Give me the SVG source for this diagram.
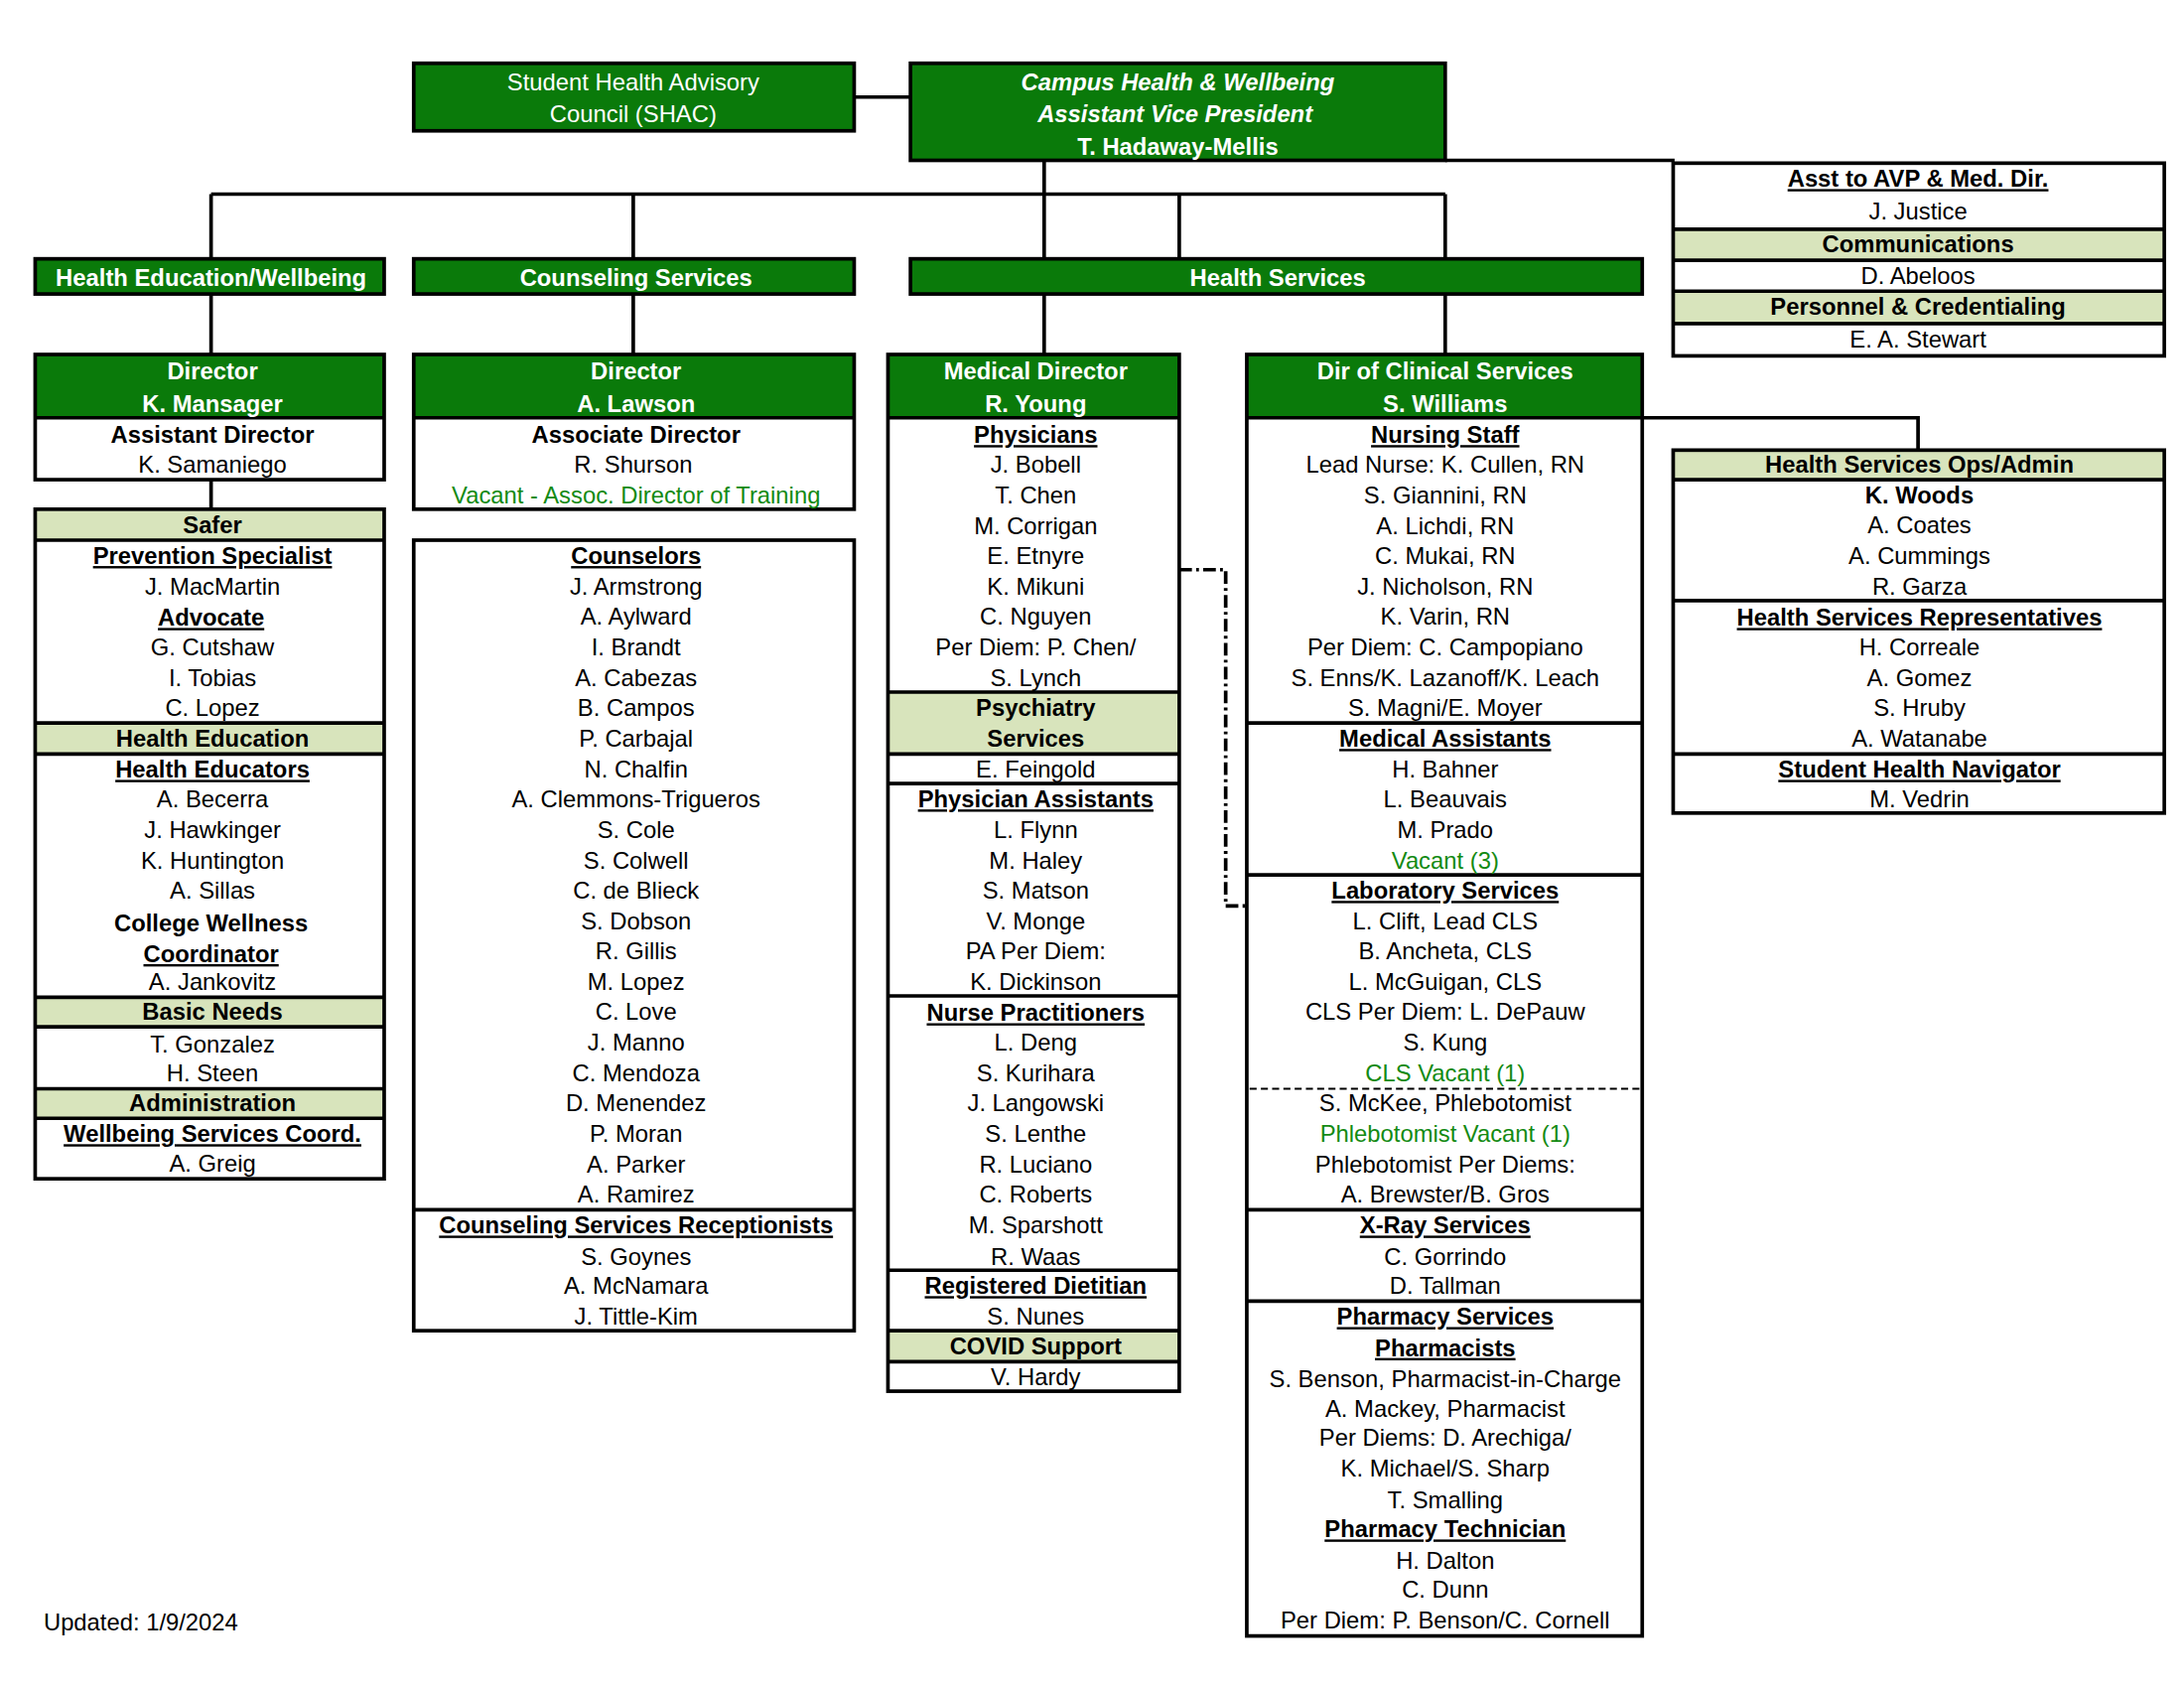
<svg xmlns="http://www.w3.org/2000/svg" width="2200" height="1700" viewBox="0 0 2200 1700">
<style>
text{font-family:"Liberation Sans",Arial,sans-serif;font-size:16.8px;text-anchor:middle;fill:#000}
.b{font-weight:bold}
.u{font-weight:bold;text-decoration:underline}
.w{fill:#fff}
.wb{fill:#fff;font-weight:bold}
.wi{fill:#fff;font-weight:bold;font-style:italic}
.g{fill:#138a13}
.hd{fill:#0a7a0a}
.bd{fill:#d8e4bc}
.o{fill:none;stroke:#000;stroke-width:2.6}
.l{stroke:#000;stroke-width:2.6;fill:none}
.d{stroke:#000;stroke-width:1.5;stroke-dasharray:5 3}
</style>
<rect width="2200" height="1700" fill="#fff"/>
<g transform="scale(1.41753,1.41667) translate(0,1)">
<g id="connectors">
<path class="l" d="M607,68H648M742,113V251M150,137H1027M150,137V183M450,137V183M838,137V183M1027,137V183M150,208V251M450,208V251M1027,208V251M1027,113H1190M150,340V361M1167,296H1363V319"/>
<path d="M838,404H871V643H886" fill="none" stroke="#000" stroke-width="2.6" stroke-dasharray="9 3 2 3"/>
</g>
<g id="shac"><rect x="294" y="44" width="313" height="48" class="hd"/><rect x="294" y="44" width="313" height="48" class="o"/>
<text x="450" y="63" class="w">Student Health Advisory</text><text x="450" y="86" class="w">Council (SHAC)</text></g>
<g id="avp"><rect x="647" y="44" width="380" height="69" class="hd"/><rect x="647" y="44" width="380" height="69" class="o"/>
<text x="837" y="63" class="wi">Campus Health &amp; Wellbeing</text><text x="835" y="86" class="wi">Assistant Vice President</text><text x="837" y="109" class="wb">T. Hadaway-Mellis</text></g>
<g id="asst"><rect x="1189" y="162" width="349" height="21" class="bd"/><rect x="1189" y="207" width="349" height="21" class="bd"/>
<path class="l" d="M1189,162H1538M1189,184H1538M1189,206H1538M1189,229H1538"/>
<rect x="1189" y="115" width="349" height="137" class="o"/>
<text x="1363" y="132" class="u">Asst to AVP &amp; Med. Dir.</text><text x="1363" y="155">J. Justice</text><text x="1363" y="178" class="b">Communications</text><text x="1363" y="201">D. Abeloos</text><text x="1363" y="223" class="b">Personnel &amp; Credentialing</text><text x="1363" y="246">E. A. Stewart</text></g>
<g id="he-bar"><rect x="25" y="183" width="248" height="25" class="hd"/><rect x="25" y="183" width="248" height="25" class="o"/><text x="150" y="202" class="wb">Health Education/Wellbeing</text></g>
<g id="cs-bar"><rect x="294" y="183" width="313" height="25" class="hd"/><rect x="294" y="183" width="313" height="25" class="o"/><text x="452" y="202" class="wb">Counseling Services</text></g>
<g id="hs-bar"><rect x="647" y="183" width="520" height="25" class="hd"/><rect x="647" y="183" width="520" height="25" class="o"/><text x="908" y="202" class="wb">Health Services</text></g>
<g id="he-dir"><rect x="25" y="251" width="248" height="45" class="hd"/><path class="l" d="M25,296H273"/><rect x="25" y="251" width="248" height="89" class="o"/>
<text x="151" y="269" class="wb">Director</text><text x="151" y="292" class="wb">K. Mansager</text><text x="151" y="314" class="b">Assistant Director</text><text x="151" y="335">K. Samaniego</text></g>
<g id="he-staff"><rect x="25" y="362" width="248" height="21" class="bd"/><rect x="25" y="513" width="248" height="22" class="bd"/><rect x="25" y="708" width="248" height="21" class="bd"/><rect x="25" y="773" width="248" height="21" class="bd"/>
<path class="l" d="M25,383H273M25,513H273M25,535H273M25,708H273M25,729H273M25,773H273M25,794H273"/>
<rect x="25" y="361" width="248" height="476" class="o"/>
<text x="151" y="378" class="b">Safer</text><text x="151" y="400" class="u">Prevention Specialist</text><text x="151" y="422">J. MacMartin</text><text x="150" y="444" class="u">Advocate</text><text x="151" y="465">G. Cutshaw</text><text x="151" y="487">I. Tobias</text><text x="151" y="508">C. Lopez</text>
<text x="151" y="530" class="b">Health Education</text><text x="151" y="552" class="u">Health Educators</text><text x="151" y="573">A. Becerra</text><text x="151" y="595">J. Hawkinger</text><text x="151" y="617">K. Huntington</text><text x="151" y="638">A. Sillas</text><text x="150" y="661" class="b">College Wellness</text><text x="150" y="683" class="u">Coordinator</text><text x="151" y="703">A. Jankovitz</text>
<text x="151" y="724" class="b">Basic Needs</text><text x="151" y="747">T. Gonzalez</text><text x="151" y="768">H. Steen</text><text x="151" y="789" class="b">Administration</text><text x="151" y="811" class="u">Wellbeing Services Coord.</text><text x="151" y="832">A. Greig</text></g>
<g id="cs-dir"><rect x="294" y="251" width="313" height="45" class="hd"/><path class="l" d="M294,296H607"/><rect x="294" y="251" width="313" height="110" class="o"/>
<text x="452" y="269" class="wb">Director</text><text x="452" y="292" class="wb">A. Lawson</text><text x="452" y="314" class="b">Associate Director</text><text x="450" y="335">R. Shurson</text><text x="452" y="357" class="g">Vacant - Assoc. Director of Training</text></g>
<g id="cs-staff"><rect x="294" y="383" width="313" height="562" class="o"/><path class="l" d="M294,859H607"/>
<text x="452" y="400" class="u">Counselors</text><text x="452" y="422">J. Armstrong</text><text x="452" y="443">A. Aylward</text><text x="452" y="465">I. Brandt</text><text x="452" y="487">A. Cabezas</text><text x="452" y="508">B. Campos</text><text x="452" y="530">P. Carbajal</text><text x="452" y="552">N. Chalfin</text><text x="452" y="573">A. Clemmons-Trigueros</text><text x="452" y="595">S. Cole</text><text x="452" y="617">S. Colwell</text><text x="452" y="638">C. de Blieck</text><text x="452" y="660">S. Dobson</text><text x="452" y="681">R. Gillis</text><text x="452" y="703">M. Lopez</text><text x="452" y="724">C. Love</text><text x="452" y="746">J. Manno</text><text x="452" y="768">C. Mendoza</text><text x="452" y="789">D. Menendez</text><text x="452" y="811">P. Moran</text><text x="452" y="833">A. Parker</text><text x="452" y="854">A. Ramirez</text>
<text x="452" y="876" class="u">Counseling Services Receptionists</text><text x="452" y="898">S. Goynes</text><text x="452" y="919">A. McNamara</text><text x="452" y="941">J. Tittle-Kim</text></g>
<g id="md"><rect x="631" y="251" width="207" height="45" class="hd"/><rect x="631" y="491" width="207" height="44" class="bd"/><rect x="631" y="946" width="207" height="20" class="bd"/>
<path class="l" d="M631,296H838M631,491H838M631,535H838M631,556H838M631,707H838M631,902H838M631,945H838M631,967H838"/>
<rect x="631" y="251" width="207" height="737" class="o"/>
<text x="736" y="269" class="wb">Medical Director</text><text x="736" y="292" class="wb">R. Young</text>
<text x="736" y="314" class="u">Physicians </text><text x="736" y="335">J. Bobell</text><text x="736" y="357">T. Chen</text><text x="736" y="379">M. Corrigan</text><text x="736" y="400">E. Etnyre</text><text x="736" y="422">K. Mikuni</text><text x="736" y="443">C. Nguyen</text><text x="736" y="465">Per Diem: P. Chen/</text><text x="736" y="487">S. Lynch</text>
<text x="736" y="508" class="b">Psychiatry</text><text x="736" y="530" class="b">Services</text><text x="736" y="552">E. Feingold</text>
<text x="736" y="573" class="u">Physician Assistants</text><text x="736" y="595">L. Flynn</text><text x="736" y="617">M. Haley</text><text x="736" y="638">S. Matson</text><text x="736" y="660">V. Monge</text><text x="736" y="681">PA Per Diem:</text><text x="736" y="703">K. Dickinson</text>
<text x="736" y="725" class="u">Nurse Practitioners</text><text x="736" y="746">L. Deng</text><text x="736" y="768">S. Kurihara</text><text x="736" y="789">J. Langowski</text><text x="736" y="811">S. Lenthe</text><text x="736" y="833">R. Luciano</text><text x="736" y="854">C. Roberts</text><text x="736" y="876">M. Sparshott</text><text x="736" y="898">R. Waas</text>
<text x="736" y="919" class="u">Registered Dietitian</text><text x="736" y="941">S. Nunes</text><text x="736" y="962" class="b">COVID Support</text><text x="736" y="984">V. Hardy</text></g>
<g id="clin"><rect x="886" y="251" width="281" height="45" class="hd"/>
<path class="l" d="M886,296H1167M886,513H1167M886,621H1167M886,859H1167M886,924H1167"/><path class="d" d="M888,773H1165"/>
<rect x="886" y="251" width="281" height="911" class="o"/>
<text x="1027" y="269" class="wb">Dir of Clinical Services</text><text x="1027" y="292" class="wb">S. Williams</text>
<text x="1027" y="314" class="u">Nursing Staff</text><text x="1027" y="335">Lead Nurse: K. Cullen, RN</text><text x="1027" y="357">S. Giannini, RN</text><text x="1027" y="379">A. Lichdi, RN</text><text x="1027" y="400">C. Mukai, RN</text><text x="1027" y="422">J. Nicholson, RN</text><text x="1027" y="443">K. Varin, RN</text><text x="1027" y="465">Per Diem: C. Campopiano</text><text x="1027" y="487">S. Enns/K. Lazanoff/K. Leach</text><text x="1027" y="508">S. Magni/E. Moyer</text>
<text x="1027" y="530" class="u">Medical Assistants</text><text x="1027" y="552">H. Bahner</text><text x="1027" y="573">L. Beauvais</text><text x="1027" y="595">M. Prado</text><text x="1027" y="617" class="g">Vacant (3)</text>
<text x="1027" y="638" class="u">Laboratory Services</text><text x="1027" y="660">L. Clift, Lead CLS</text><text x="1027" y="681">B. Ancheta, CLS</text><text x="1027" y="703">L. McGuigan, CLS</text><text x="1027" y="724">CLS Per Diem: L. DePauw</text><text x="1027" y="746">S. Kung</text><text x="1027" y="768" class="g">CLS Vacant (1)</text><text x="1027" y="789">S. McKee, Phlebotomist</text><text x="1027" y="811" class="g">Phlebotomist Vacant (1)</text><text x="1027" y="833">Phlebotomist Per Diems:</text><text x="1027" y="854">A. Brewster/B. Gros</text>
<text x="1027" y="876" class="u">X-Ray Services</text><text x="1027" y="898">C. Gorrindo</text><text x="1027" y="919">D. Tallman</text>
<text x="1027" y="941" class="u">Pharmacy Services</text><text x="1027" y="963" class="u">Pharmacists</text><text x="1027" y="985">S. Benson, Pharmacist-in-Charge</text><text x="1027" y="1006">A. Mackey, Pharmacist</text><text x="1027" y="1027">Per Diems: D. Arechiga/</text><text x="1027" y="1049">K. Michael/S. Sharp</text><text x="1027" y="1071">T. Smalling</text><text x="1027" y="1092" class="u">Pharmacy Technician</text><text x="1027" y="1114">H. Dalton</text><text x="1027" y="1135">C. Dunn</text><text x="1027" y="1157">Per Diem: P. Benson/C. Cornell</text></g>
<g id="ops"><rect x="1189" y="319" width="349" height="21" class="bd"/>
<path class="l" d="M1189,340H1538M1189,426H1538M1189,535H1538"/>
<rect x="1189" y="319" width="349" height="258" class="o"/>
<text x="1364" y="335" class="b">Health Services Ops/Admin</text><text x="1364" y="357" class="b">K. Woods</text><text x="1364" y="378">A. Coates</text><text x="1364" y="400">A. Cummings</text><text x="1364" y="422">R. Garza</text>
<text x="1364" y="444" class="u">Health Services Representatives</text><text x="1364" y="465">H. Correale</text><text x="1364" y="487">A. Gomez</text><text x="1364" y="508">S. Hruby</text><text x="1364" y="530">A. Watanabe</text>
<text x="1364" y="552" class="u">Student Health Navigator</text><text x="1364" y="573">M. Vedrin</text></g>
<text x="31" y="1158" style="text-anchor:start">Updated: 1/9/2024</text>
</g>
</svg>
